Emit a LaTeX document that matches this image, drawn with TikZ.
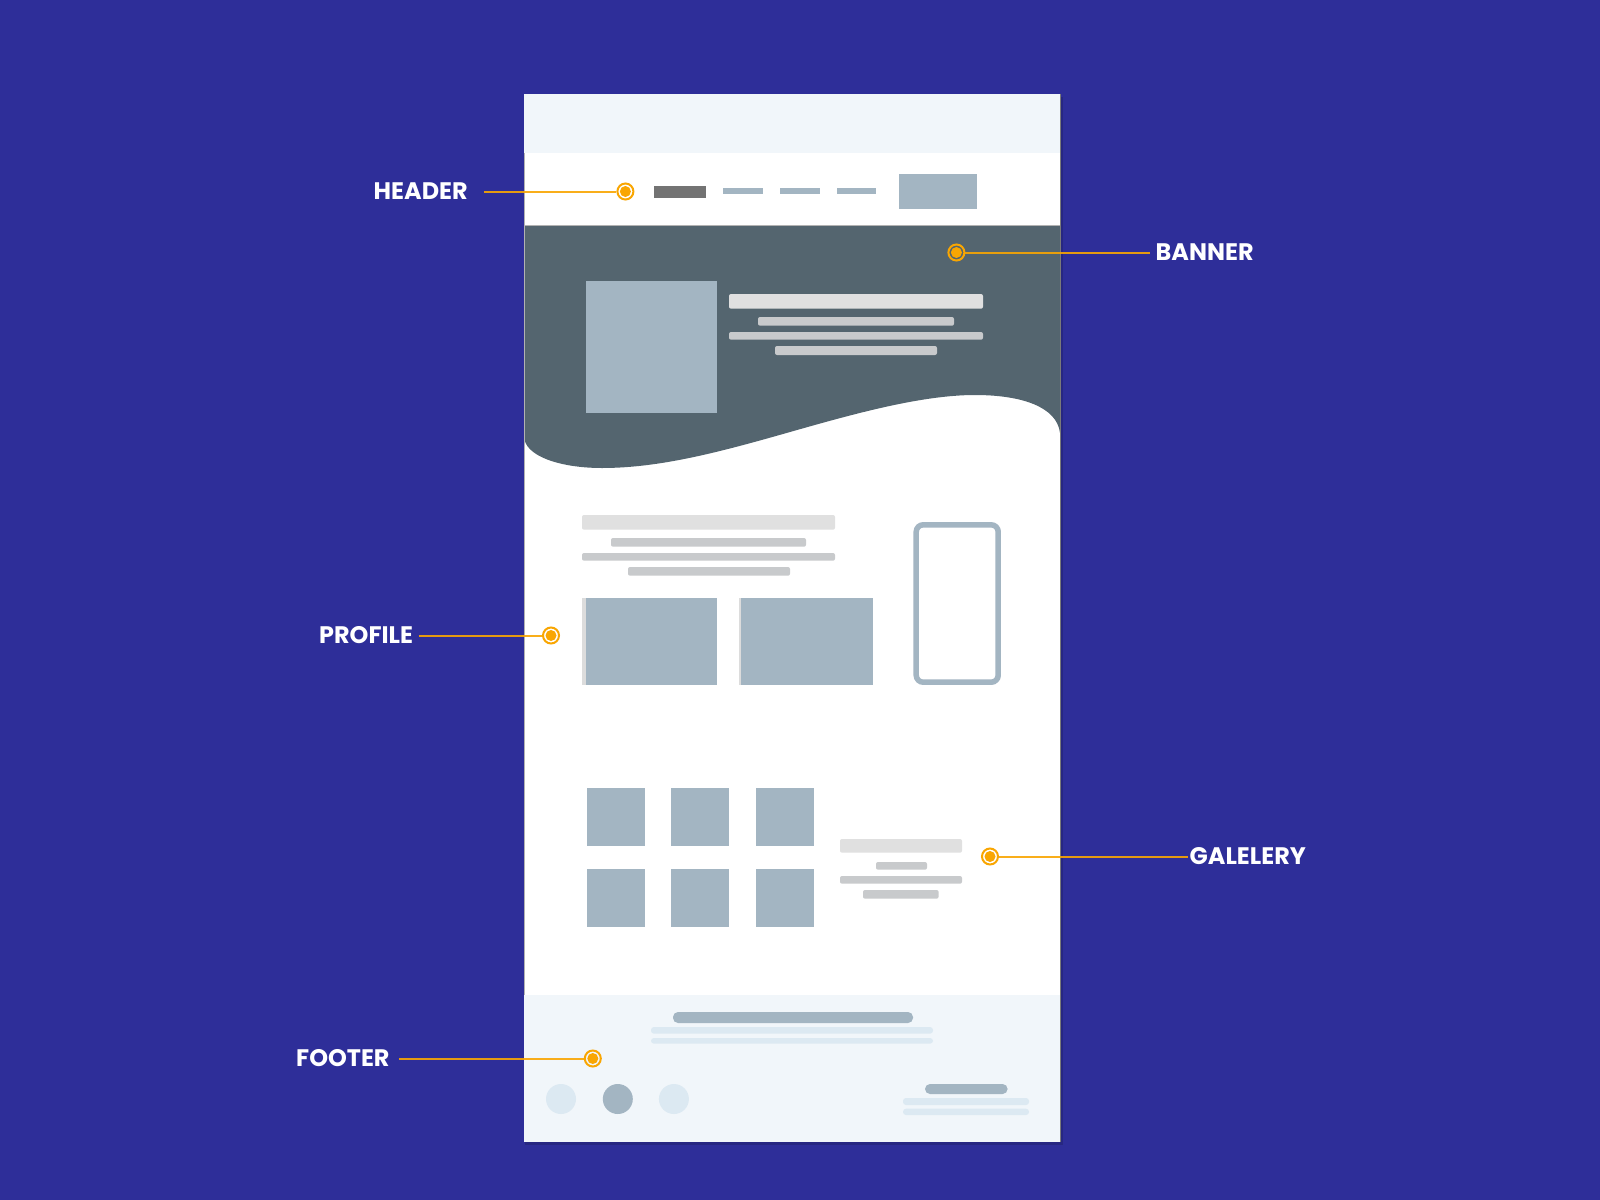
\documentclass[tikz,border=0pt]{standalone}
\usepackage{fontspec}
\setmainfont{Poppins}
\definecolor{bgblue}{HTML}{2E2E99}
\definecolor{pale}{HTML}{F1F6FA}
\definecolor{bannergray}{HTML}{54656F}
\definecolor{bluegray}{HTML}{A3B5C2}
\definecolor{darkbar}{HTML}{737373}
\definecolor{lightbar}{HTML}{E0E0E0}
\definecolor{midbar}{HTML}{C8CACC}
\definecolor{paleblue}{HTML}{DCE9F2}
\definecolor{dotorange}{HTML}{F9A602}
\definecolor{edgegray}{HTML}{7A7A7A}
\definecolor{stripgray}{HTML}{DCDCDC}
\begin{document}
\begin{tikzpicture}[x=0.01cm,y=-0.01cm,
  tile/.style={fill=bluegray},
  titlebar/.style={fill=lightbar,rounded corners=0.02cm},
  textbar/.style={fill=midbar,rounded corners=0.02cm},
  footbar/.style={fill=paleblue,rounded corners=0.03cm},
  footpill/.style={fill=bluegray,rounded corners=0.05cm},
  dot/.style={circle,draw=dotorange,line width=0.02cm,minimum size=0.16cm,inner sep=0pt,
    path picture={\fill[dotorange] (path picture bounding box.center) circle (0.055cm);}},
  lab/.style={text=white,font=\fontsize{6.8pt}{8pt}\selectfont\bfseries,inner sep=0pt},
  conn/.style={draw=dotorange,line width=0.02cm,draw opacity=0.9}
]
\useasboundingbox (0,0) rectangle (1600,1200);
\fill[bgblue] (0,0) rectangle (1600,1200);
% page shadow and page
\fill[black,opacity=0.15] (525,97) rectangle (1063,1145);
\fill[white] (524,94) rectangle (1060,1142);
\fill[pale] (524,94) rectangle (1060,153);
% banner
\fill[bannergray] (524,225) -- (1060,225) -- (1060,433)
  .. controls (1057,407) and (1022,395) .. (975,395)
  .. controls (920,395) and (850,415) .. (790,432)
  .. controls (720,452) and (660,468) .. (602,468)
  .. controls (560,468) and (524,456) .. (524,436) -- cycle;
\draw[gray!60,line width=0.01cm] (524,225) -- (1060,225);
% footer
\fill[pale] (524,995) rectangle (1060,1142);
% page edge
\draw[edgegray,line width=0.01cm] (1060,94) -- (1060,1142);
\draw[gray!60,line width=0.005cm] (524,153) -- (524,995);

% header elements
\fill[darkbar] (653.8,186) rectangle (706.2,197.7);
\fill[tile] (723.2,188) rectangle (763.1,193.7);
\fill[tile] (780.1,188) rectangle (820,193.7);
\fill[tile] (837,188) rectangle (876,193.7);
\fill[tile] (899,174) rectangle (977,208.7);

% banner elements
\fill[tile] (586,281) rectangle (717,412.7);
\fill[titlebar] (729,294) rectangle (983,308.7);
\fill[textbar] (758,317) rectangle (954,325.7);
\fill[textbar] (729,332) rectangle (983,339.7);
\fill[textbar] (775,346) rectangle (937,355);

% profile elements
\fill[titlebar] (582,515) rectangle (835,529.7);
\fill[textbar] (611,538) rectangle (806,546.7);
\fill[textbar] (582,553) rectangle (835,560.7);
\fill[textbar] (628,567) rectangle (790,575.7);
\fill[stripgray] (582,598) rectangle (585.6,684.7);
\fill[tile] (585.6,598) rectangle (717,684.7);
\fill[stripgray] (738.5,598) rectangle (740.8,684.7);
\fill[tile] (740.8,598) rectangle (873,684.7);
\draw[bluegray,line width=0.055cm,rounded corners=0.07cm] (916.2,524.8) rectangle (998.2,682.2);

% gallery elements
\foreach \gx in {587.1,671,755.8}{
  \fill[tile] (\gx,788) rectangle ++(57.8,58);
  \fill[tile] (\gx,869) rectangle ++(57.8,57.7);
}
\fill[titlebar] (840,839) rectangle (962,852.7);
\fill[textbar] (876,862) rectangle (927,869.7);
\fill[textbar] (840,876) rectangle (962,883.7);
\fill[textbar] (863,890) rectangle (938.6,898.7);

% footer elements
\fill[footpill] (673,1012) rectangle (913,1023);
\fill[footbar] (651,1027) rectangle (933,1033.7);
\fill[footbar] (651,1038) rectangle (933,1043.7);
\fill[paleblue] (561,1099) circle (15);
\fill[bluegray] (617.8,1099) circle (15);
\fill[paleblue] (673.9,1099) circle (15);
\fill[footpill] (925,1084) rectangle (1007.6,1094);
\fill[footbar] (903,1098) rectangle (1029,1105);
\fill[footbar] (903,1108.7) rectangle (1029,1115);

% callout dots and labels
\node[dot] (hdot) at (625.4,191.5) {};
\node[dot] (bdot) at (956.4,252.5) {};
\node[dot] (pdot) at (551,635.5) {};
\node[dot] (gdot) at (990,856.5) {};
\node[dot] (fdot) at (592.8,1058.5) {};

\node[lab,anchor=west] (hlab) at (373,191.5) {HEADER};
\node[lab,anchor=west] (blab) at (1155,252.5) {BANNER};
\node[lab,anchor=west] (plab) at (318.5,635.5) {PROFILE};
\node[lab,anchor=west] (glab) at (1189,856.5) {GALELERY};
\node[lab,anchor=west] (flab) at (295.5,1058.5) {FOOTER};

\draw[conn,shorten <=0.16cm] (hlab.east) -- (hdot);
\draw[conn,shorten >=0.05cm] (bdot) -- (blab.west);
\draw[conn,shorten <=0.05cm] (plab.east) -- (pdot);
\draw[conn,shorten >=0.01cm] (gdot) -- (glab.west);
\draw[conn,shorten <=0.09cm] (flab.east) -- (fdot);
\end{tikzpicture}
\end{document}
